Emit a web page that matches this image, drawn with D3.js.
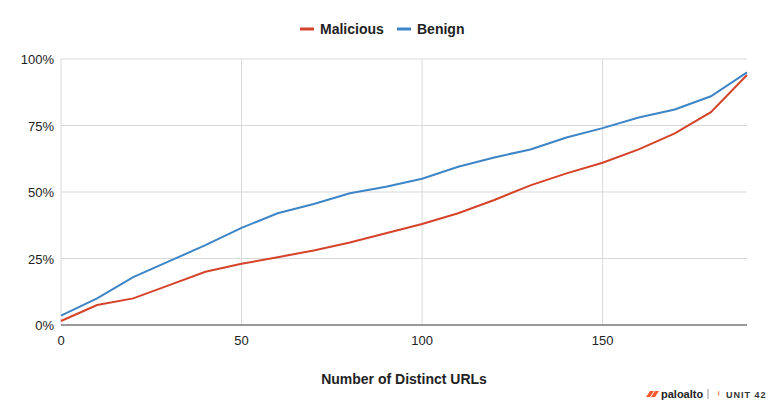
<!DOCTYPE html>
<html><head><meta charset="utf-8">
<script src="https://cdn.jsdelivr.net/npm/d3@7"></script>
<style>body{margin:0;background:#fff;font-family:Arial,"Liberation Sans",sans-serif}</style>
</head><body>
<svg id="chart" width="768" height="407"></svg>
<script>
const xs = [0,10,20,30,40,50,60,70,80,90,100,110,120,130,140,150,160,170,180,190];
const benign = [3.5,10,18,24,30,36.5,42,45.5,49.5,52,55,59.5,63,66,70.5,74,78,81,86,95];
const malicious = [1.5,7.5,10,15,20,23,25.5,28,31,34.5,38,42,47,52.5,57,61,66,72,80,94];
const xTicks = [0,50,100,150];
const yTicks = [0,25,50,75,100];
const series = [
  {name: "Malicious", values: malicious, color: "#d5432a"},
  {name: "Benign", values: benign, color: "#3d85c6"}
];

const svg = d3.select("#chart");
const m = {left: 61, right: 21, top: 59, bottom: 82};
const x = d3.scaleLinear().domain([0,190]).range([m.left, 768 - m.right]);
const y = d3.scaleLinear().domain([0,100]).range([407 - m.bottom, m.top]);

// grid
svg.append("g").selectAll("line").data(xTicks.filter(d => d > 0)).enter().append("line")
  .attr("x1", d => x(d)).attr("x2", d => x(d)).attr("y1", y(0)).attr("y2", y(100))
  .attr("stroke", "#d9d9d9");
svg.append("g").selectAll("line").data(yTicks.filter(d => d > 0)).enter().append("line")
  .attr("x1", x(0)).attr("x2", x(190)).attr("y1", d => y(d)).attr("y2", d => y(d))
  .attr("stroke", "#d9d9d9");
svg.append("line").attr("x1", x(0)).attr("x2", x(0)).attr("y1", y(0)).attr("y2", y(100)).attr("stroke", "#d9d9d9");
svg.append("line").attr("x1", x(0)).attr("x2", x(190)).attr("y1", y(0)).attr("y2", y(0)).attr("stroke", "#333");

// axes labels
svg.append("g").selectAll("text").data(xTicks).enter().append("text")
  .attr("x", d => x(d)).attr("y", y(0) + 20).attr("text-anchor", "middle")
  .attr("font-size", 13).attr("fill", "#222").text(d => d);
svg.append("g").selectAll("text").data(yTicks).enter().append("text")
  .attr("x", x(0) - 7).attr("y", d => y(d) + 5).attr("text-anchor", "end")
  .attr("font-size", 13).attr("fill", "#222").text(d => d + "%");

// lines
const line = d3.line().x((d, i) => x(xs[i])).y(d => y(d));
series.forEach(s => {
  svg.append("path").attr("d", line(s.values)).attr("fill", "none")
    .attr("stroke", s.color).attr("stroke-width", 2);
});

// legend
const lg = svg.append("g");
[{s: series[0], x: 300}, {s: series[1], x: 397}].forEach(o => {
  lg.append("line").attr("x1", o.x).attr("x2", o.x + 14).attr("y1", 29).attr("y2", 29)
    .attr("stroke", o.s.color).attr("stroke-width", 3);
  lg.append("text").attr("x", o.x + 20).attr("y", 34).attr("font-size", 14)
    .attr("font-weight", "bold").attr("fill", "#222").text(o.s.name);
});

// x title
svg.append("text").attr("x", 404).attr("y", 384).attr("text-anchor", "middle")
  .attr("font-size", 14).attr("font-weight", "bold").attr("fill", "#222").text("Number of Distinct URLs");

// logo
const logo = svg.append("g");
logo.append("path").attr("d", "M646,397 l4,-6 h4 l-4,6z M651,397 l4,-6 h4 l-4,6z").attr("fill", "#fa582d");
logo.append("text").attr("x", 661).attr("y", 398).attr("font-size", 11).attr("font-weight", "bold")
  .attr("fill", "#222").text("paloalto");
logo.append("line").attr("x1", 708).attr("x2", 708).attr("y1", 389).attr("y2", 399).attr("stroke", "#999");
logo.append("text").attr("x", 718).attr("y", 398).attr("font-size", 9).attr("font-weight", "bold")
  .attr("fill", "#fa582d").text("ⁱ");
logo.append("text").attr("x", 726).attr("y", 398).attr("font-size", 9).attr("font-weight", "bold")
  .attr("fill", "#333").attr("letter-spacing", 1).text("UNIT 42");
</script>
</body></html>
